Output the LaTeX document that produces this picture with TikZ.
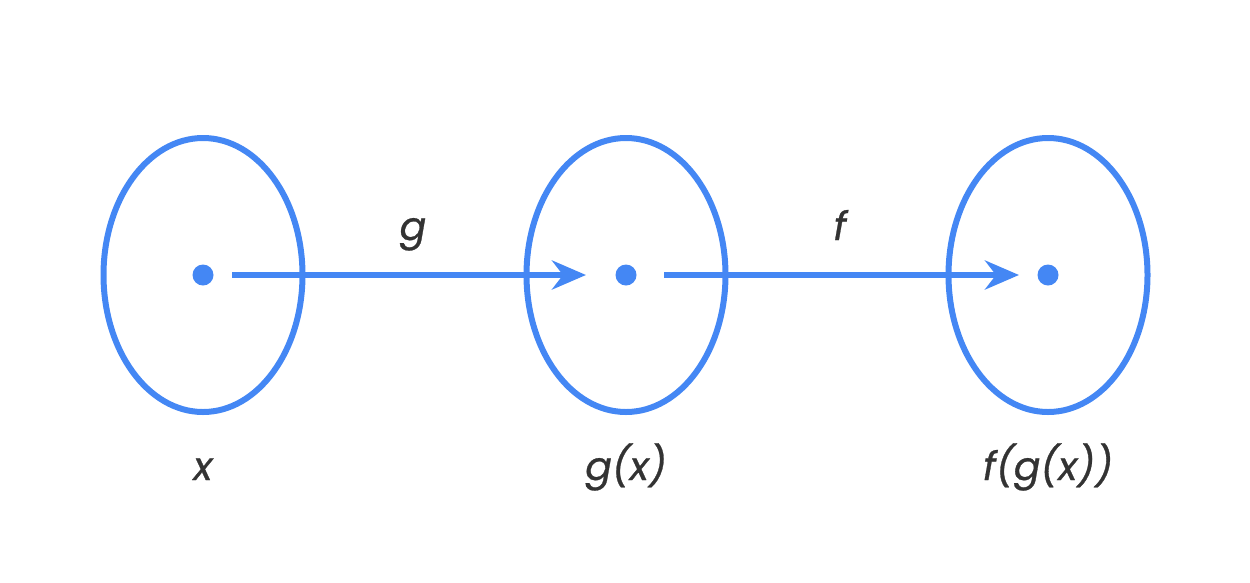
\documentclass[tikz,border=0pt]{standalone}
\usepackage{fontspec}
\setmainfont{Poppins}
\usepackage{xcolor}
\usetikzlibrary{shapes.geometric, arrows.meta}
\definecolor{setblue}{HTML}{4487F4}
\definecolor{labelgray}{HTML}{333333}
\tikzstyle{set} = [ellipse, minimum width=1.99cm, minimum height=2.74cm, inner sep=0pt, draw=setblue, line width=0.06cm]
\tikzstyle{dot} = [circle, minimum size=0.21cm, inner sep=0pt, fill=setblue]
\tikzstyle{label} = [anchor=base, inner sep=0pt, text=labelgray, font=\fontsize{11.2pt}{13pt}\selectfont\itshape\addfontfeature{FakeBold=0.7}]
\tikzstyle{arrow} = [draw=setblue, line width=0.066cm, -{Stealth[length=0.34cm, width=0.29cm, inset=0.11cm]}]

\begin{document}
\begin{tikzpicture}

\useasboundingbox (0,0) rectangle (12.5,5.82);

\node at (2.03, 3.07) (setX) [set] {};
\node at (6.26, 3.07) (setG) [set] {};
\node at (10.48, 3.07) (setF) [set] {};

\node at (setX.center) (dotX) [dot] {};
\node at (setG.center) (dotG) [dot] {};
\node at (setF.center) (dotF) [dot] {};

\node at (2.03, 1.02) (labX) [label] {x};
\node at (6.26, 1.02) (labG) [label] {g(x)};
\node at (10.48, 1.02) (labF) [label] {f(g(x))};

\node at (4.13, 3.42) (nameG) [label] {g};
\node at (8.40, 3.42) (nameF) [label] {f};

\draw [arrow, shorten <=0.29cm, shorten >=0.40cm] (dotX.center) -- (dotG.center);
\draw [arrow, shorten <=0.38cm, shorten >=0.29cm] (dotG.center) -- (dotF.center);

\end{tikzpicture}
\end{document}
